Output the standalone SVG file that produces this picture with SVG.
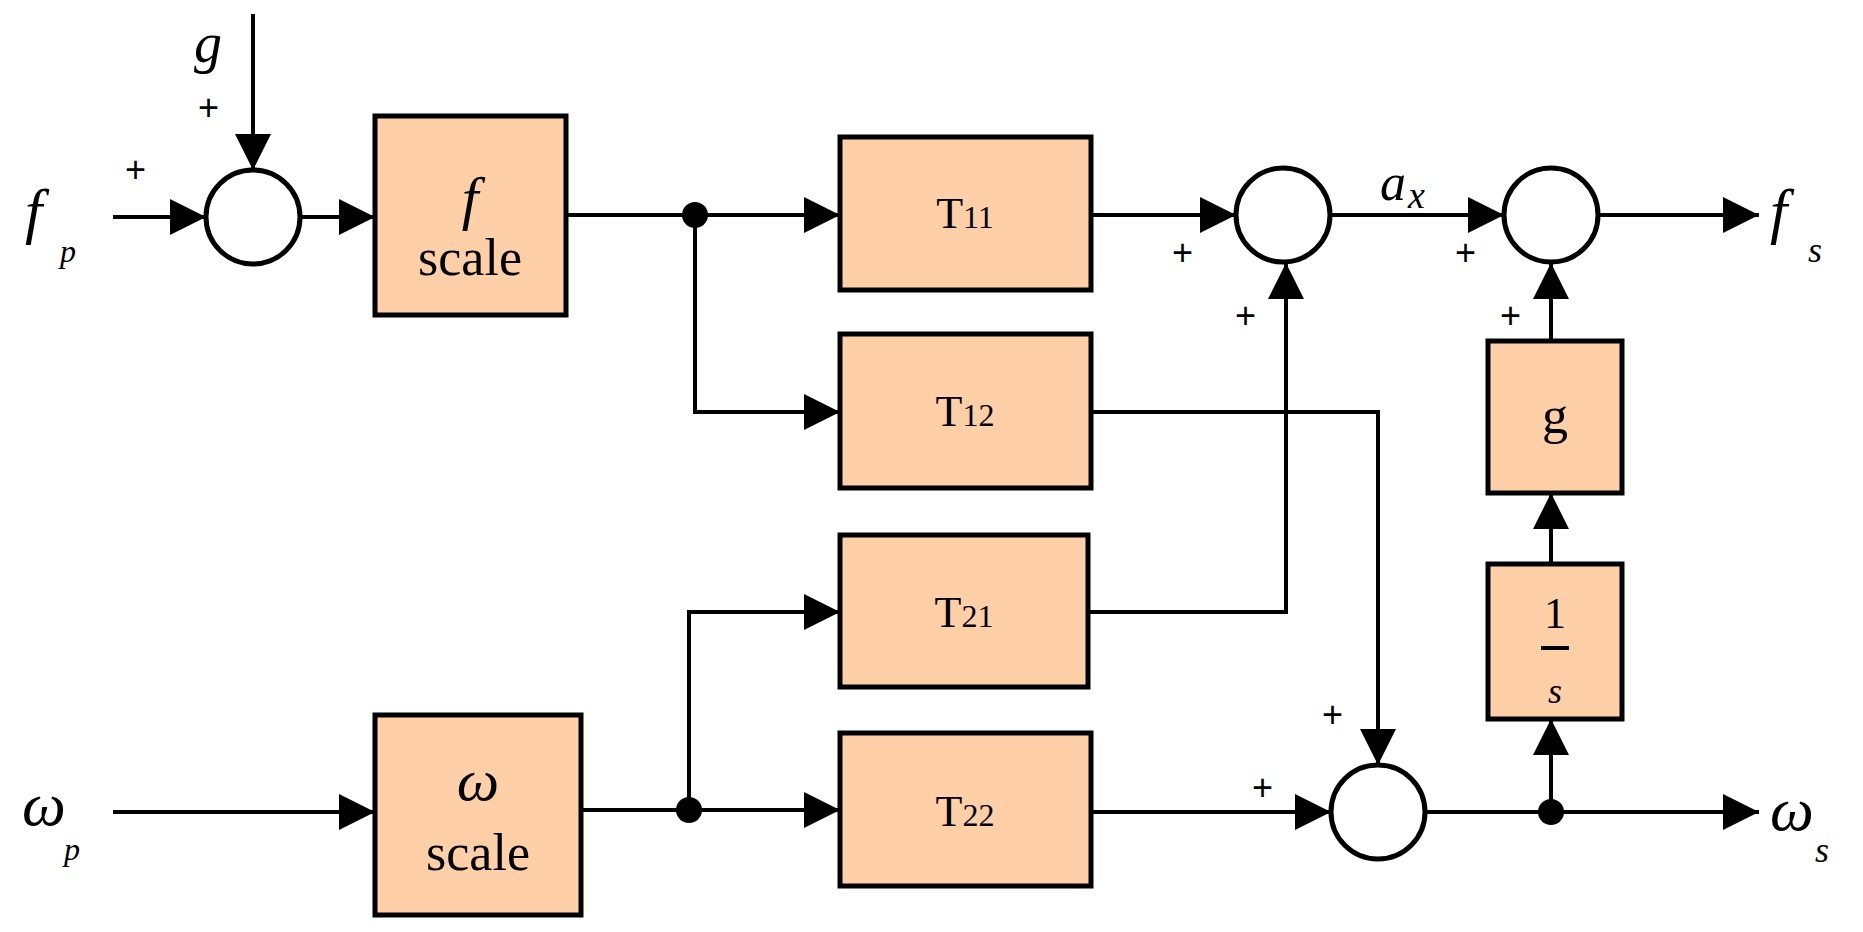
<svg xmlns="http://www.w3.org/2000/svg" width="1863" height="932" viewBox="0 0 1863 932">
<style>
.b{fill:#FFCFA8;stroke:#000;stroke-width:5}
.s{fill:#fff;stroke:#000;stroke-width:5}
.l{fill:none;stroke:#000;stroke-width:4;marker-end:url(#a)}
.n{fill:none;stroke:#000;stroke-width:4}
.t{font-family:"Liberation Serif",serif;fill:#000}
.i{font-family:"Liberation Serif",serif;font-style:italic;fill:#000}
.p{font-family:"Liberation Sans",sans-serif;font-size:36px;fill:#000}
</style>
<defs><marker id="a" markerUnits="userSpaceOnUse" markerWidth="38" markerHeight="36" refX="36" refY="18" orient="auto"><path d="M0,0 L36,18 L0,36 Z" fill="#000"/></marker></defs>
<g id="connectors">
<path class="l" d="M113,217 H206"/>
<path class="l" d="M253,14 V170"/>
<path class="l" d="M300,217 H375"/>
<path class="n" d="M566,215 H695"/>
<path class="l" d="M695,215 H840"/>
<path class="l" d="M695,215 V412 H840"/>
<path class="l" d="M1091,215 H1236"/>
<path class="l" d="M1330,215 H1504"/>
<path class="l" d="M1598,215 H1759"/>
<path class="l" d="M1091,412 H1378 V765"/>
<path class="l" d="M1088,612 H1286 V263"/>
<path class="l" d="M113,812 H375"/>
<path class="n" d="M581,810 H689"/>
<path class="l" d="M689,810 H840"/>
<path class="l" d="M689,810 V612 H840"/>
<path class="l" d="M1091,812 H1331"/>
<path class="l" d="M1425,812 H1759"/>
<path class="l" d="M1551,812 V719"/>
<path class="l" d="M1551,564 V493"/>
<path class="l" d="M1551,341 V263"/>
<circle cx="695" cy="215" r="13"/>
<circle cx="689" cy="810" r="13"/>
<circle cx="1551" cy="812" r="13"/>
</g>
<g id="sum1"><circle class="s" cx="253" cy="217" r="47"/></g>
<g id="sum2"><circle class="s" cx="1283" cy="215" r="47"/></g>
<g id="sum3"><circle class="s" cx="1551" cy="215" r="47"/></g>
<g id="sum4"><circle class="s" cx="1378" cy="812" r="47"/></g>
<g id="fscale"><rect class="b" x="375" y="116" width="191" height="199"/><text class="i" x="470" y="218" font-size="60" text-anchor="middle">f</text><text class="t" x="470" y="275" font-size="52" text-anchor="middle">scale</text></g>
<g id="wscale"><rect class="b" x="375" y="715" width="206" height="200"/><text class="i" x="478" y="800" font-size="60" text-anchor="middle">ω</text><text class="t" x="478" y="870" font-size="52" text-anchor="middle">scale</text></g>
<g id="T11"><rect class="b" x="840" y="137" width="251" height="153"/><text class="t" x="965" y="228" font-size="44" text-anchor="middle">T<tspan font-size="32">11</tspan></text></g>
<g id="T12"><rect class="b" x="840" y="334" width="251" height="154"/><text class="t" x="965" y="426" font-size="44" text-anchor="middle">T<tspan font-size="32">12</tspan></text></g>
<g id="T21"><rect class="b" x="840" y="535" width="248" height="152"/><text class="t" x="964" y="627" font-size="44" text-anchor="middle">T<tspan font-size="32">21</tspan></text></g>
<g id="T22"><rect class="b" x="840" y="733" width="251" height="153"/><text class="t" x="965" y="826" font-size="44" text-anchor="middle">T<tspan font-size="32">22</tspan></text></g>
<g id="gbox"><rect class="b" x="1488" y="341" width="134" height="152"/><text class="t" x="1555" y="433" font-size="52" text-anchor="middle">g</text></g>
<g id="integ"><rect class="b" x="1488" y="564" width="134" height="155"/><text class="t" x="1555" y="628" font-size="44" text-anchor="middle">1</text><line x1="1541" y1="648" x2="1569" y2="648" stroke="#000" stroke-width="4"/><text class="i" x="1555" y="703" font-size="36" text-anchor="middle">s</text></g>
<g id="labels">
<text class="i" x="25" y="232" font-size="62">f</text><text class="i" x="60" y="262" font-size="32">p</text>
<text class="i" x="194" y="62" font-size="56">g</text>
<text class="p" x="198" y="120">+</text>
<text class="p" x="125" y="182">+</text>
<text class="i" x="1380" y="200" font-size="52">a</text><text class="i" x="1408" y="208" font-size="38">x</text>
<text class="i" x="1770" y="232" font-size="62">f</text><text class="i" x="1808" y="262" font-size="36">s</text>
<text class="i" x="22" y="825" font-size="62">ω</text><text class="i" x="64" y="860" font-size="32">p</text>
<text class="i" x="1770" y="830" font-size="62">ω</text><text class="i" x="1815" y="862" font-size="36">s</text>
<text class="p" x="1172" y="265">+</text>
<text class="p" x="1235" y="328">+</text>
<text class="p" x="1455" y="265">+</text>
<text class="p" x="1500" y="328">+</text>
<text class="p" x="1322" y="727">+</text>
<text class="p" x="1252" y="800">+</text>
</g>
</svg>
